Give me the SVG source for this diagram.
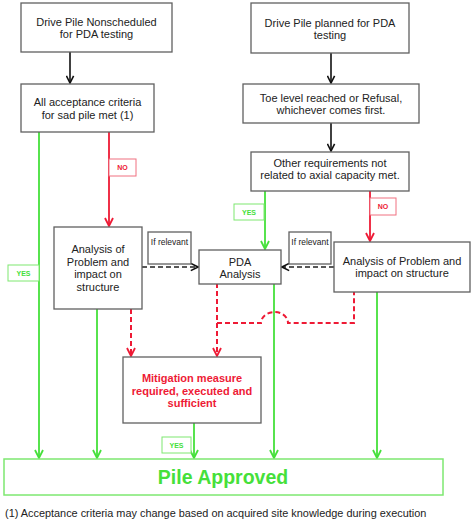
<svg xmlns="http://www.w3.org/2000/svg" width="474" height="523" viewBox="0 0 474 523">
<defs>
<style>
.box{fill:#fff;stroke:#606060;stroke-width:1.3}
.t{font-family:"Liberation Sans",Arial,sans-serif;font-size:11px;fill:#222;text-anchor:middle}
.s{font-family:"Liberation Sans",Arial,sans-serif;font-size:8.5px;fill:#222;text-anchor:middle}
.lbl{font-family:"Liberation Sans",Arial,sans-serif;font-size:7px;font-weight:bold;text-anchor:middle}
.g{stroke:#45e03a;stroke-width:1.8;fill:none}
.r{stroke:#ee1a35;stroke-width:1.8;fill:none}
.rd{stroke:#ee1a35;stroke-width:2;fill:none;stroke-dasharray:5 3}
.kd{stroke:#222;stroke-width:1.3;fill:none;stroke-dasharray:5 3}
.k{stroke:#111;stroke-width:1.6;fill:none}
</style>
<marker id="ak" viewBox="0 0 10 10" refX="9" refY="5" markerWidth="9" markerHeight="9" markerUnits="userSpaceOnUse" orient="auto"><path d="M1,1 L9,5 L1,9" fill="none" stroke="#111" stroke-width="1.8"/></marker>
<marker id="ag" viewBox="0 0 10 10" refX="9" refY="5" markerWidth="10" markerHeight="10" markerUnits="userSpaceOnUse" orient="auto"><path d="M1,1 L9,5 L1,9" fill="none" stroke="#45e03a" stroke-width="1.8"/></marker>
<marker id="ar" viewBox="0 0 10 10" refX="9" refY="5" markerWidth="10" markerHeight="10" markerUnits="userSpaceOnUse" orient="auto"><path d="M1,1 L9,5 L1,9" fill="none" stroke="#ee1a35" stroke-width="1.8"/></marker>
</defs>
<rect width="474" height="523" fill="#fff"/>

<g id="connectors">
<line class="k" x1="70" y1="52" x2="70" y2="83" marker-end="url(#ak)"/>
<line class="k" x1="331" y1="53" x2="331" y2="83" marker-end="url(#ak)"/>
<line class="k" x1="331" y1="123" x2="331" y2="151" marker-end="url(#ak)"/>
<line class="g" x1="39" y1="132" x2="39" y2="458" marker-end="url(#ag)"/>
<line class="r" x1="109" y1="132" x2="109" y2="226" marker-end="url(#ar)"/>
<line class="g" x1="265" y1="191" x2="265" y2="249" marker-end="url(#ag)"/>
<line class="r" x1="370" y1="191" x2="370" y2="241" marker-end="url(#ar)"/>
<line class="kd" x1="142" y1="267" x2="198" y2="267" marker-end="url(#ak)"/>
<line class="kd" x1="334" y1="267" x2="282" y2="267" marker-end="url(#ak)"/>
<line class="g" x1="97" y1="309" x2="97" y2="458" marker-end="url(#ag)"/>
<line class="g" x1="274" y1="283" x2="274" y2="458" marker-end="url(#ag)"/>
<line class="g" x1="377" y1="292" x2="377" y2="458" marker-end="url(#ag)"/>
<line class="g" x1="194" y1="423" x2="194" y2="458" marker-end="url(#ag)"/>
<line class="rd" x1="131" y1="309" x2="131" y2="356" marker-end="url(#ar)"/>
<line class="rd" x1="217" y1="283" x2="217" y2="356" marker-end="url(#ar)"/>
<path class="rd" d="M217,323 H261 A13.5,11 0 0 1 288,323 H354 V292"/>
<g id="lbl-no1"><rect x="109" y="159" width="27" height="17" fill="#fff" stroke="#f07080" stroke-width="1"/><text class="lbl" x="122.5" y="170" fill="#ee1a35">NO</text></g>
<g id="lbl-no2"><rect x="370" y="198" width="26" height="17" fill="#fff" stroke="#f07080" stroke-width="1"/><text class="lbl" x="383" y="209" fill="#ee1a35">NO</text></g>
<g id="lbl-yes1"><rect x="8" y="265" width="31" height="16" fill="#fff" stroke="#7ee870" stroke-width="1"/><text class="lbl" x="23.5" y="276" fill="#45e03a">YES</text></g>
<g id="lbl-yes2"><rect x="234" y="204" width="30" height="16" fill="#fff" stroke="#7ee870" stroke-width="1"/><text class="lbl" x="249" y="215" fill="#45e03a">YES</text></g>
<g id="lbl-yes3"><rect x="162" y="437" width="29" height="16" fill="#fff" stroke="#7ee870" stroke-width="1"/><text class="lbl" x="176.5" y="448" fill="#45e03a">YES</text></g>
</g>

<g id="n-nonscheduled"><rect class="box" x="21" y="3" width="151" height="49"/><text class="t" x="96.5" y="26">Drive Pile Nonscheduled</text><text class="t" x="96.5" y="38">for PDA testing</text></g>
<g id="n-criteria"><rect class="box" x="21" y="84" width="133" height="48"/><text class="t" x="87.5" y="106">All acceptance criteria</text><text class="t" x="87.5" y="119">for sad pile met (1)</text></g>
<g id="n-planned"><rect class="box" x="251" y="3" width="158" height="50"/><text class="t" x="330" y="27">Drive Pile planned for PDA</text><text class="t" x="330" y="39">testing</text></g>
<g id="n-toe"><rect class="box" x="243" y="84" width="176" height="39"/><text class="t" x="331" y="102">Toe level reached or Refusal,</text><text class="t" x="331" y="114">whichever comes first.</text></g>
<g id="n-other"><rect class="box" x="251" y="152" width="158" height="39"/><text class="t" x="330" y="167">Other requirements not</text><text class="t" x="330" y="179">related to axial capacity met.</text></g>
<g id="n-analysis-left"><rect class="box" x="54" y="227" width="88" height="82"/><text class="t" x="98" y="253">Analysis of</text><text class="t" x="98" y="266">Problem and</text><text class="t" x="98" y="278">impact on</text><text class="t" x="98" y="291">structure</text></g>
<g id="n-ifrel-left"><rect class="box" x="148" y="232" width="43" height="32"/><text class="s" x="169.5" y="245">If relevant</text></g>
<g id="n-pda"><rect class="box" x="199" y="250" width="82" height="34"/><text class="t" x="240" y="266">PDA</text><text class="t" x="240" y="278">Analysis</text></g>
<g id="n-ifrel-right"><rect class="box" x="289" y="232" width="42" height="32"/><text class="s" x="310" y="245">If relevant</text></g>
<g id="n-analysis-right"><rect class="box" x="334" y="242" width="136" height="50"/><text class="t" x="402" y="265">Analysis of Problem and</text><text class="t" x="402" y="277">impact on structure</text></g>
<g id="n-mitigation"><rect class="box" x="123" y="357" width="138" height="66"/><text class="t" x="192" y="382" style="font-weight:bold;fill:#ee1a35">Mitigation measure</text><text class="t" x="192" y="395" style="font-weight:bold;fill:#ee1a35">required, executed and</text><text class="t" x="192" y="407" style="font-weight:bold;fill:#ee1a35">sufficient</text></g>
<g id="n-approved"><rect x="4" y="459" width="439" height="36" fill="#fff" stroke="#7ee870" stroke-width="1.5"/><text x="223" y="484" style="font-family:'Liberation Sans',Arial,sans-serif;font-size:19.5px;font-weight:bold;fill:#45e03a;text-anchor:middle">Pile Approved</text></g>
<g id="footnote"><text x="5" y="517" style="font-family:'Liberation Sans',Arial,sans-serif;font-size:10.9px;fill:#222">(1) Acceptance criteria may change based on acquired site knowledge during execution</text></g>
</svg>
